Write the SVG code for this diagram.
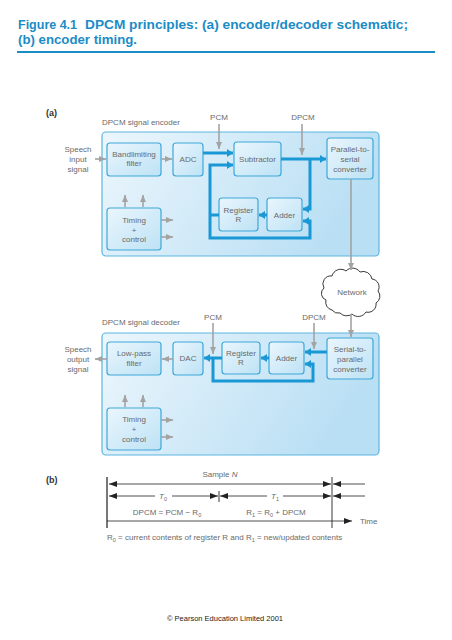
<svg xmlns="http://www.w3.org/2000/svg" width="452" height="640" viewBox="0 0 452 640">
<style>
.t{font-family:"Liberation Sans",Arial,sans-serif;font-size:8px;fill:#6a6a6a}
.c{text-anchor:middle}
.title{font-family:"Liberation Sans",Arial,sans-serif;font-size:12.5px;font-weight:bold;fill:#1b8cc6}
.lab{font-family:"Liberation Sans",Arial,sans-serif;font-size:9px;font-weight:bold;fill:#333}
.big{fill:url(#gBig);stroke:#5cb5e0;stroke-width:1.2}
.box{fill:url(#gBox);stroke:#3ea7da;stroke-width:1.2}
.g{fill:none;stroke:#a3a3a3;stroke-width:1.6;marker-end:url(#ag)}
.b{fill:none;stroke:#1a98d5;stroke-width:3}
.ba{fill:none;stroke:#1a98d5;stroke-width:3;marker-end:url(#ab)}
.k{fill:none;stroke:#222;stroke-width:0.8}
.sub{font-size:5.5px}
</style>
<defs>
<linearGradient id="gBig" x1="0" y1="0" x2="1" y2="0.3">
<stop offset="0" stop-color="#ecf6fc"/>
<stop offset="1" stop-color="#b9dff4"/>
</linearGradient>
<linearGradient id="gBox" x1="0" y1="0" x2="1" y2="1">
<stop offset="0" stop-color="#eaf6fd"/>
<stop offset="1" stop-color="#bde2f5"/>
</linearGradient>
<marker id="ag" markerUnits="userSpaceOnUse" markerWidth="8" markerHeight="6" refX="7" refY="3" orient="auto">
<path d="M0,0 L7,3 L0,6 z" fill="#a3a3a3"/>
</marker>
<marker id="ab" markerUnits="userSpaceOnUse" markerWidth="8" markerHeight="8" refX="6" refY="4" orient="auto">
<path d="M0,0 L6,4 L0,8 z" fill="#1a98d5"/>
</marker>
<marker id="ak" markerUnits="userSpaceOnUse" markerWidth="9" markerHeight="6" refX="8" refY="3" orient="auto">
<path d="M0,0 L8,3 L0,6 z" fill="#222"/>
</marker>
</defs>
<rect width="452" height="640" fill="#fff"/>

<g id="title">
<text class="title" x="18" y="28.5">Figure 4.1</text>
<text class="title" x="85" y="28.5" textLength="323" lengthAdjust="spacingAndGlyphs">DPCM principles: (a) encoder/decoder schematic;</text>
<text class="title" x="18" y="43.5" textLength="119" lengthAdjust="spacingAndGlyphs">(b) encoder timing.</text>
<line x1="17" y1="52" x2="435" y2="52" stroke="#1b8cc6" stroke-width="2"/>
</g>

<text class="lab" x="46" y="116">(a)</text>
<text class="lab" x="46" y="483">(b)</text>

<!-- Encoder -->
<g id="encoder">
<rect class="big" x="102" y="132" width="277" height="124" rx="4"/>
<text class="t" x="102" y="125">DPCM signal encoder</text>
</g>
<g id="enc-labels">
<text class="t c" x="219" y="120">PCM</text>
<text class="t c" x="303" y="120">DPCM</text>
<text class="t c" x="78" y="152">Speech</text>
<text class="t c" x="78" y="162">input</text>
<text class="t c" x="78" y="172">signal</text>
</g>
<g id="bandlimiting">
<rect class="box" x="107" y="143" width="54" height="33" rx="3"/>
<text class="t c" x="134" y="157">Bandlimiting</text>
<text class="t c" x="134" y="166">filter</text>
</g>
<g id="adc">
<rect class="box" x="173" y="143" width="30" height="33" rx="3"/>
<text class="t c" x="188" y="162">ADC</text>
</g>
<g id="subtractor">
<rect class="box" x="234" y="142" width="47" height="34" rx="3"/>
<text class="t c" x="257.5" y="162">Subtractor</text>
</g>
<g id="p2s">
<rect class="box" x="327" y="138" width="46" height="41" rx="3"/>
<text class="t c" x="350" y="152">Parallel-to-</text>
<text class="t c" x="350" y="162">serial</text>
<text class="t c" x="350" y="172">converter</text>
</g>
<g id="enc-timing">
<rect class="box" x="107" y="208" width="54" height="42" rx="3"/>
<text class="t c" x="134" y="223">Timing</text>
<text class="t c" x="134" y="233">+</text>
<text class="t c" x="134" y="242">control</text>
</g>
<g id="enc-register">
<rect class="box" x="219" y="198" width="39" height="33" rx="3"/>
<text class="t c" x="238.5" y="213">Register</text>
<text class="t c" x="238.5" y="222">R</text>
</g>
<g id="enc-adder">
<rect class="box" x="267" y="198" width="35" height="33" rx="3"/>
<text class="t c" x="284.5" y="218">Adder</text>
</g>

<!-- Decoder -->
<g id="decoder">
<rect class="big" x="102" y="333" width="277" height="122" rx="4"/>
<text class="t" x="102" y="325">DPCM signal decoder</text>
</g>
<g id="dec-labels">
<text class="t c" x="213" y="320">PCM</text>
<text class="t c" x="314" y="320">DPCM</text>
<text class="t c" x="78" y="352">Speech</text>
<text class="t c" x="78" y="362">output</text>
<text class="t c" x="78" y="372">signal</text>
</g>
<g id="lowpass">
<rect class="box" x="107" y="342" width="54" height="33" rx="3"/>
<text class="t c" x="134" y="356">Low-pass</text>
<text class="t c" x="134" y="366">filter</text>
</g>
<g id="dac">
<rect class="box" x="173" y="342" width="30" height="33" rx="3"/>
<text class="t c" x="188" y="361">DAC</text>
</g>
<g id="dec-register">
<rect class="box" x="222" y="342" width="38" height="32" rx="3"/>
<text class="t c" x="241" y="356">Register</text>
<text class="t c" x="241" y="365">R</text>
</g>
<g id="dec-adder">
<rect class="box" x="269" y="342" width="35" height="32" rx="3"/>
<text class="t c" x="286.5" y="361">Adder</text>
</g>
<g id="s2p">
<rect class="box" x="327" y="338" width="46" height="41" rx="3"/>
<text class="t c" x="350" y="352">Serial-to-</text>
<text class="t c" x="350" y="362">parallel</text>
<text class="t c" x="350" y="372">converter</text>
</g>
<g id="dec-timing">
<rect class="box" x="107" y="408" width="54" height="42" rx="3"/>
<text class="t c" x="134" y="422">Timing</text>
<text class="t c" x="134" y="432">+</text>
<text class="t c" x="134" y="442">control</text>
</g>

<g id="network">
<path d="M332,310 a8,8 0 0 1 -6,-10 a7,7 0 0 1 -2,-12 a8,8 0 0 1 8,-12 a9,9 0 0 1 14,-5 a9,9 0 0 1 14,1 a9,9 0 0 1 12,7 a8,8 0 0 1 6,12 a8,8 0 0 1 -2,12 a8,8 0 0 1 -10,9 a9,9 0 0 1 -14,2 a9,9 0 0 1 -12,-1 a8,8 0 0 1 -8,-3 z" fill="#fff" stroke="#222" stroke-width="0.9"/>
<text class="t c" x="352" y="295">Network</text>
</g>

<g id="connectors">
<!-- encoder grey -->
<path class="g" d="M95,159 H106"/>
<path class="g" d="M161,159 H172"/>
<path class="g" d="M219,124 V149"/>
<path class="g" d="M302,124 V155"/>
<path class="g" d="M125,207 V195"/>
<path class="g" d="M143,207 V195"/>
<path class="g" d="M161,220 H173"/>
<path class="g" d="M161,237 H173"/>
<path class="g" d="M351,179 V270"/>
<path class="g" d="M351,314 V337"/>
<!-- encoder blue -->
<path class="ba" d="M203,153 H233"/>
<path class="ba" d="M281,159 H326"/>
<path class="ba" d="M310,159 V209 H303"/>
<path class="b" d="M219,215 H210"/>
<path class="ba" d="M210,215 V165 H233"/>
<path class="ba" d="M210,215 V238 H310 V221 H303"/>
<path class="ba" d="M267,215 H259"/>
<!-- decoder grey -->
<path class="g" d="M107,359 H95"/>
<path class="g" d="M173,359 H162"/>
<path class="g" d="M213,323 V354"/>
<path class="g" d="M314,323 V349"/>
<path class="g" d="M125,407 V395"/>
<path class="g" d="M143,407 V395"/>
<path class="g" d="M161,420 H173"/>
<path class="g" d="M161,437 H173"/>
<!-- decoder blue -->
<path class="ba" d="M327,352 H305"/>
<path class="ba" d="M269,358 H261"/>
<path class="ba" d="M222,358 H204"/>
<path class="ba" d="M213,358 V381 H313 V364 H305"/>
</g>

<!-- Timing (b) -->
<g id="timing">
<line x1="107" y1="477" x2="107" y2="528" stroke="#777" stroke-width="2"/>
<line x1="332" y1="477" x2="332" y2="528" stroke="#222" stroke-width="0.9"/>
<line x1="219" y1="491" x2="219" y2="502" stroke="#222" stroke-width="0.9"/>
<text class="t c" x="220" y="477">Sample <tspan font-style="italic">N</tspan></text>
<path class="k" d="M200,484 H109" marker-end="url(#ak)"/>
<path class="k" d="M200,484 H331" marker-end="url(#ak)"/>
<path class="k" d="M365,484 H333" marker-end="url(#ak)"/>
<path class="k" d="M155,496 H109" marker-end="url(#ak)"/>
<path class="k" d="M172,496 H218" marker-end="url(#ak)"/>
<path class="k" d="M267,496 H220" marker-end="url(#ak)"/>
<path class="k" d="M283,496 H331" marker-end="url(#ak)"/>
<path class="k" d="M365,496 H333" marker-end="url(#ak)"/>
<text class="t c" x="163" y="499"><tspan font-style="italic">T</tspan><tspan class="sub" dy="2">0</tspan></text>
<text class="t c" x="275" y="499"><tspan font-style="italic">T</tspan><tspan class="sub" dy="2">1</tspan></text>
<text class="t c" x="167" y="515">DPCM = PCM − R<tspan class="sub" dy="2">0</tspan></text>
<text class="t c" x="276" y="515">R<tspan class="sub" dy="2">1</tspan><tspan dy="-2"> = R</tspan><tspan class="sub" dy="2">0</tspan><tspan dy="-2"> + DPCM</tspan></text>
<path class="k" d="M107,521 H352" marker-end="url(#ak)"/>
<text class="t" x="360" y="524">Time</text>
<text class="t" x="107" y="540">R<tspan class="sub" dy="2">0</tspan><tspan dy="-2"> = current contents of register R and R</tspan><tspan class="sub" dy="2">1</tspan><tspan dy="-2"> = new/updated contents</tspan></text>
</g>

<text x="225" y="621" text-anchor="middle" font-family="Liberation Sans, Arial, sans-serif" font-size="7.5" fill="#222">© Pearson Education Limited 2001</text>
</svg>
